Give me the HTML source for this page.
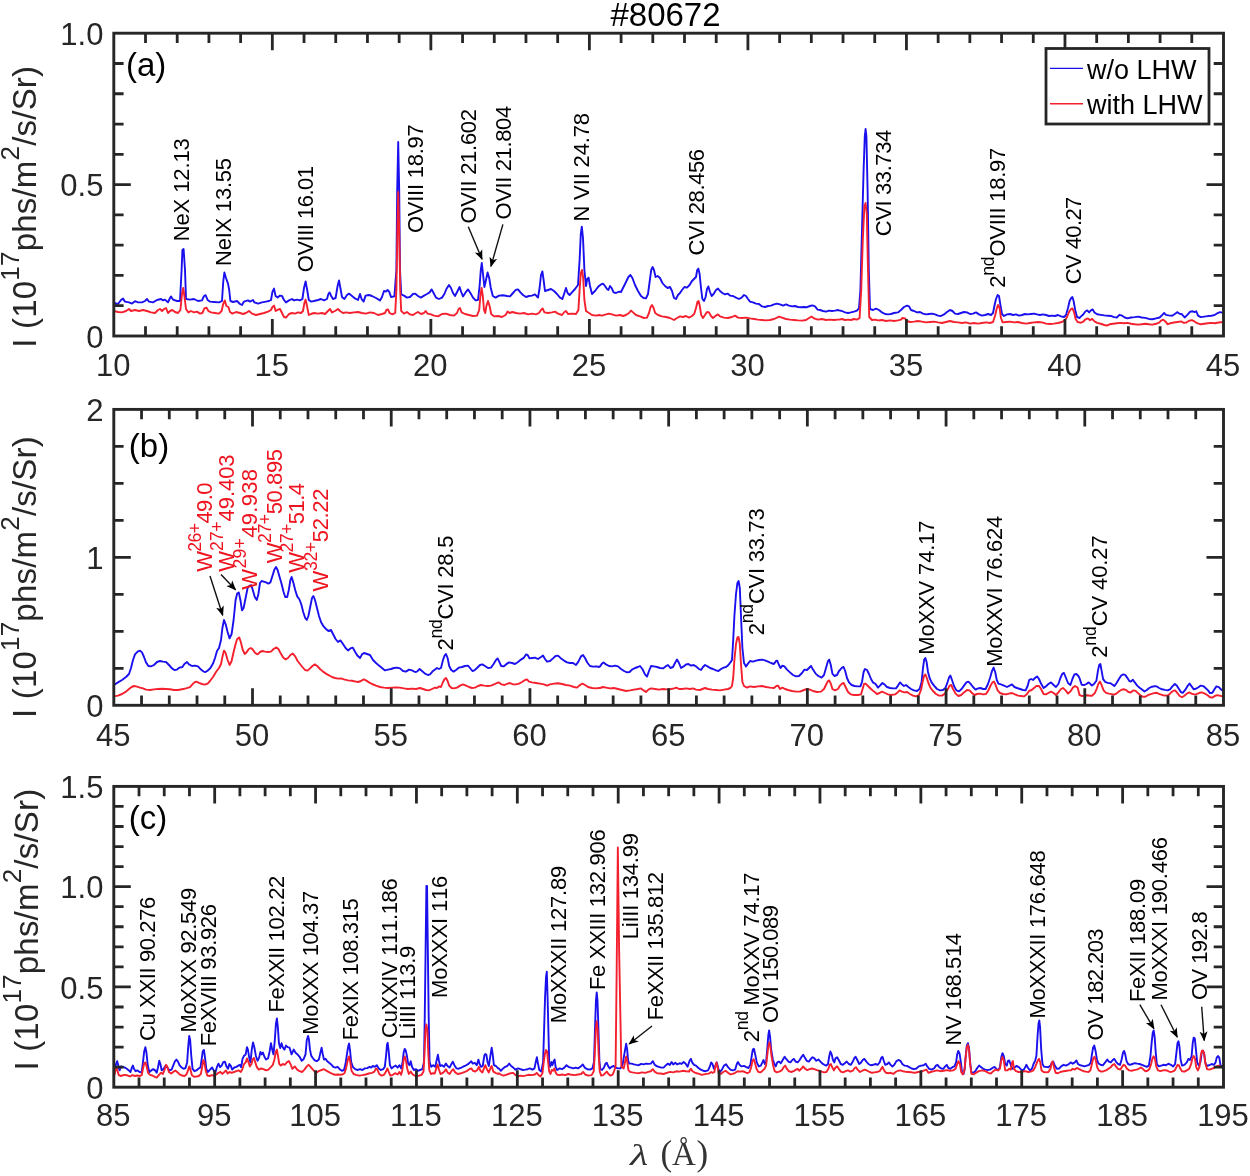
<!DOCTYPE html><html><head><meta charset="utf-8"><title>#80672</title><style>
html,body{margin:0;padding:0;background:#fff}svg{display:block}
text{font-family:"Liberation Sans", Arial, Helvetica, sans-serif;fill:#262626;font-kerning:none}
.tl{font-size:31px}.yl{font-size:33px}.pl{font-size:33px;fill:#000}.an{fill:#000}.anr{fill:#ee1420}.lg{font-size:27px;fill:#000}
.xl{font-family:"Liberation Serif","DejaVu Serif",serif;font-size:33px;fill:#333}
</style></head><body>
<svg width="1250" height="1176" viewBox="0 0 1250 1176">
<rect width="1250" height="1176" fill="#fff"/>
<defs><marker id="ah" viewBox="0 0 10 10" refX="9" refY="5" markerWidth="10" markerHeight="10" markerUnits="userSpaceOnUse" orient="auto"><path d="M0 1L10 5L0 9L2.5 5z" fill="#000"/></marker></defs>
<text x="665.5" y="26" text-anchor="middle" style="font-size:33px;fill:#000">#80672</text>
<g id="panel-a">
<clipPath id="clipa"><rect x="113.8" y="33.2" width="1109.7" height="302.8"/></clipPath>
<polyline clip-path="url(#clipa)" points="114,303 118,304 121,300 123,298.6 125,301.6 129,302.4 132,303.6 135,301.2 138,302.4 142,302.4 145,301 147,299 149,301.6 153,302.4 157,300 161,299 163,300.4 165,299.6 168,302.4 170,298 171,296.4 173,299.6 177,301 180,301 181.6,270 182.4,250 183.6,249 185,270 186,299 190,299.6 194,299 198,301 202,300.4 204,296 205.6,295.2 207.6,300 210,301.6 214,302 219,302.4 222,301 223.2,282 224.4,272.4 226,278 228,283.6 229.2,290 230.4,301 233,302 237,301 240,304 242,305 244,301.6 248,300.4 250,301.6 253,300 254.4,302.4 258,303.6 262,302.4 266,301.6 269,301 271,300 272.4,292 274,288.6 275.6,296 277.6,297.6 280,295.6 282,296 284,300 286,302.4 289,300.4 292,299 294,300.4 297,299.6 300,300.4 302.4,299 304,288 305.6,281.4 307.2,290 308.8,300 311,301.6 314,301 318,300 321,299 324,300.4 327,299 328.4,294 329.6,292.4 331.2,296 333,299 335.6,298 337.6,286 339,280.4 340.4,288 342,297 344.4,299 347,295 349,293.6 352,296 355,298.4 358,300 360,294 361.6,299 363.6,301.6 365.6,295.6 369,295 372,296 376,298 380,300.4 382,297 384,291 386,291.6 387.6,290 389.2,291.6 391,297 394.4,296.4 396.4,270 397.2,190 398.2,142 399.2,190 400,270 401.2,294.4 404,295.6 407,297.6 410,297 413,294 415,293.6 418,296 421,297.6 424,295.6 427,294 429.6,292.4 431.6,289.4 433.6,293 436,297.6 439,299 442,297.6 444.4,294 446.4,289 449,285 451,288 453,293 455,296 457.6,291 459.6,287 461.2,292 463,296.4 465.6,292.4 468,289.4 470.4,293 473,297.6 475.6,300.4 478,300 479.6,286 480.8,270 481.8,263 483,274 484.4,287 486,280 487.6,272.4 489.2,278 490.8,288 492.8,296 495.6,297.6 499,295.6 503,295.2 507,296 510,296.4 513,293 515.6,290 518,289.4 520.4,292.4 523,295 526,297 529,296 532,295.6 535,294.4 538,297.6 539.6,288 541,275 542.4,271.4 543.6,280 545,291 548,290 551,289 554,291 557,294 560,297.6 562.4,299 564.4,293 566,288 567.6,293 569.6,295 572,292.4 575,289 578,285 579.6,260 580.8,234 581.8,226.6 583,238 584.4,270 586,286 587.2,279 588.6,277.6 590,286 592,294 595,291 598,287 599,286 601,284.4 603,283.6 605,286 607,289 608.4,290 610,286 611.6,288 613.6,292.4 616,293 619,291.6 621,292 623,288 626,282 628.4,277 630.4,275 632.4,278 635,285 638,291 641,296 643.6,298 646,298.4 648,294 649.6,282 651.2,270 652.6,267 654,270 655.6,277 657.6,276 660,278 662.4,283 665,286 667.6,288 670,287 672,291 674,298 676,299 678,295 680,293 682,290 684.4,287 687,287.6 689.6,285 692,281 694,279 696,277 697.2,270 698.4,268.6 699.6,274 701,288 702.4,299 704,301 705.6,297 707,289 708.4,286.4 710,292 711.6,296 713.6,294 716,290 718,288.6 720,291 722.4,293 725,294.4 727.6,293.6 730,295.6 733,296 736,297.6 739,299 741.6,297.6 744,295 746,296 748,299 750,301.6 753,302.4 756,303.6 759,304 762,306.4 765,307 768,306 771,305.6 774,304.4 777,303.6 780,304.4 783,305.6 786,304.4 789,305.6 792,306.4 795,306 798,307 801,307.2 804,307 807,307.2 810,306 812.4,305.4 815,306.4 817.6,309.6 820,310 823,311 826,311.6 829,310.6 832,311 835,310.6 838,310 839,310.4 842,311 845,312.4 848,313 851,312.4 854,311.6 857,310.6 859,308 860.4,290 862,230 863.6,170 864.8,136 865.6,129 866.4,136 867.6,190 868.8,270 870,309 873,310 876,308.6 879,310 882,312.4 885,314 888,314.4 891,314 894,313 898,312.4 901,310 904,307 907,305.6 909,306.4 911,310 914,311 917,312.4 920,312 923,313.6 926,314.4 929,314 932,313.6 935,314.4 938,315.6 941,316 944,314.4 947,312 950,310 952.4,311 955,313.6 958,314 961,313 964,312 967,312.4 970,314 973,313.6 976,312.4 979,314.4 982,315.6 985,315 988,314 991,315 993,313 994.4,306 996,299 997.6,295 999,296 1000.4,305 1002,314 1004,316 1007,314.4 1010,314 1013,315 1016,314.4 1019,315.6 1022,315 1025,314 1028,314.4 1031,314 1034,313.6 1037,314.4 1040,315 1043,314.4 1046,315 1049,316 1052,315.6 1055,316 1058,315 1061,316.4 1064,317 1066,315 1068,308 1069.6,301 1071.2,298 1072.4,297 1073.6,301 1075.2,310 1077,317 1079.6,318 1080.18,317.14 1082.86,314.82 1085.54,311.25 1087.32,310.36 1089.11,312.5 1090.89,310.36 1092.68,309.46 1094.46,312.5 1097.14,314.29 1100.71,314.82 1104.29,315.36 1107.86,315.71 1111.43,316.07 1114.11,317.14 1116.79,317.5 1119.46,314.82 1122.14,315.71 1124.82,317.5 1127.5,318.39 1131.07,317.5 1134.64,317.14 1138.21,316.61 1141.79,317.5 1145.36,317.86 1148.93,318.93 1152.5,319.29 1156.07,318.39 1159.64,317.5 1162.32,314.82 1164.11,313.04 1165.89,314.82 1168.57,315.36 1172.14,315.71 1174.82,313.93 1177.14,312.14 1179.29,313.57 1181.96,314.29 1184.64,317.5 1187.32,314.82 1190,311.79 1192.68,311.25 1194.46,312.14 1196.25,311.25 1198.04,315.71 1200.71,317.14 1204.29,316.61 1207.86,316.07 1211.43,315.71 1215,314.82 1217.68,313.04 1220,312.14 1223.93,313.04" fill="none" stroke="#1a10ee" stroke-width="1.9" stroke-linejoin="round"/>
<polyline clip-path="url(#clipa)" points="114,311 118,312 122,312.4 126,311 129,309 131,311 135,310 139,311 143,310 147,311 151,312.4 155,313 158,310 160,309 162,311 164,309 166,308 168,313 170,311 172.4,310 175,312 178,313 180.4,310 182,294 183.2,288 184.4,296 186,309 188.4,312.4 191,311 194,312.4 197,311.6 200,313.6 202.4,313 204.4,308.4 206.4,307.6 208.4,311 211,312.4 215,313 219,313.6 221.6,311 223.2,304 224.8,300.4 226.4,306 228.4,307 230,312 232.4,313.6 236,312 240,313 243,314 246,313 249,311 252,313.6 256,315 260,314 264,313 268,311.6 271,310 272.4,307 274,305.6 275.6,311 278,309.6 280,309 282,313 284,317 286,317.6 289,314 292,313 295,313.6 298,312.4 301,313 303,311 304.4,303 305.6,299.6 307.2,307 308.8,315 311,314 314,313 318,313.6 322,313 325,314 328,311 330,309 332,312.4 335,311 338,309 340,311 343,313 346,312.4 350,313 354,312.4 358,312 362,313 366,313.6 370,312.4 374,313 378,315 382,314 385,313 386.4,310 388,309.4 389.6,313 392.4,314.4 395.2,313 396.4,290 397.4,230 398.2,192 399.2,230 400.2,290 401.2,311 404,313.6 407,312 410,314.4 413,315 416,313 418,312 421,314 424,313 425.6,311 427.6,313.6 431,314.4 434,315.6 438,316.4 442,314 446,313.6 450,315 454,315.6 457,313 458.6,309 460,308 461.6,312.4 465,314 469,315 473,316 477,315.6 479.2,310 480.4,296 481.6,288 482.8,296 484,310 485.2,313 486.4,306 488,301 489.6,306 491.2,314 494,316.4 498,316 502,317 505.6,315 507.6,311.6 509.6,313 512.4,312 516,313 520,313.6 524,313 528,314.4 532,313.6 536,314.4 539,313 541,310 542.6,308.4 544.4,312.4 548,313 552,312.4 555,311.6 558,313.6 562,315 564.4,312 566,311 568,314 572,313.6 576,314 578.4,310 579.6,290 580.8,273 582,270 583.2,278 584.4,300 586,311 589,313 592,315 596,315.6 599,315 602,315.6 606,314.4 609,313.6 612,314.4 616,315.6 620,315 623,316 626,315 629,313 631,310.6 633,312.4 636,315 640,316.4 644,318 647,317.6 649,313 650.6,307 652,305 653.6,308 655.2,313 658,315 662,316.4 666,317 670,318 674,320 677,318 680,316.4 683,317 686,316 689,317.6 692,316 694.4,313.6 696,308 697.4,302 698.6,301 699.8,306 701.2,315 703,318 705,315 707,312 709,312.4 711,316 713,318 716,315.6 718,314.4 720,316.4 724,317.6 728,318 732,317 735,315.6 738,317.6 742,318 746,317.6 750,318.4 754,319 758,319.6 762,320 766,320.4 770,320 774,319 777,317.6 779,316.6 782,317.6 786,319 790,319.6 794,320 798,320.4 802,320.6 806,320 809,318 811.6,316.6 814,318.4 818,319.6 822,319 826,320 830,319.6 834,320 838,319.6 839,319.6 842,319 845,320 848,319.6 851,320 854,319 857,319.6 859.6,318 861.2,290 862.8,240 864.4,206 865.6,203 866.8,214 868,270 869.2,317 872,320 875,319.6 878,320.4 882,320 886,321 890,320.4 894,321 898,320.4 901,319.6 902.4,318 905,318.4 907,321 910,322 914,321.6 918,321 922,321.6 926,322.4 930,322 934,321.6 938,322.4 942,323 946,322 950,321 954,322 958,322.4 962,323 966,322.4 970,323.6 974,323 978,323.6 982,323 986,322.4 990,323 993,322 995,316 996.6,309 998,305 999.6,308 1001,318 1002.6,322.4 1006,322 1010,321.6 1014,322.4 1018,322 1022,323 1026,323.6 1030,323 1034,322.4 1038,322 1042,322.4 1046,323.6 1050,324 1054,323.6 1058,323 1062,322 1065,320 1067,317 1069,312 1071,309 1072.4,308.4 1074,312 1075.6,319 1077.6,322 1079.6,322.4 1080.18,322.86 1082.86,321.96 1085.54,319.29 1087.86,318.39 1090,320.18 1092.14,318.93 1094.46,321.43 1097.14,322.86 1100.71,323.75 1104.29,325 1106.96,325.54 1109.64,324.29 1113.21,323.75 1116.79,323.21 1120.36,322.86 1123.93,323.21 1127.5,322.86 1131.07,323.75 1134.64,324.29 1138.21,324.64 1141.79,324.29 1145.36,323.75 1148.93,324.29 1152.5,324.64 1156.07,323.75 1158.75,322.86 1161.07,320.71 1163.21,319.64 1165.36,321.43 1167.68,324.29 1170.36,323.21 1173.93,322.5 1177.5,321.96 1181.07,321.43 1183.75,322.86 1186.43,322.5 1189.11,320.71 1191.79,320.18 1194.46,321.43 1197.14,323.21 1200.71,324.29 1204.29,323.75 1207.86,323.21 1211.43,322.86 1215,323.21 1218.57,322.5 1223.93,321.96" fill="none" stroke="#f4202e" stroke-width="1.9" stroke-linejoin="round"/>
<path d="M145.51 336v-9.8M145.51 33.2v9.8M177.21 336v-9.8M177.21 33.2v9.8M208.92 336v-9.8M208.92 33.2v9.8M240.62 336v-9.8M240.62 33.2v9.8M272.33 336v-17M272.33 33.2v17M304.03 336v-9.8M304.03 33.2v9.8M335.74 336v-9.8M335.74 33.2v9.8M367.45 336v-9.8M367.45 33.2v9.8M399.15 336v-9.8M399.15 33.2v9.8M430.86 336v-17M430.86 33.2v17M462.56 336v-9.8M462.56 33.2v9.8M494.27 336v-9.8M494.27 33.2v9.8M525.97 336v-9.8M525.97 33.2v9.8M557.68 336v-9.8M557.68 33.2v9.8M589.39 336v-17M589.39 33.2v17M621.09 336v-9.8M621.09 33.2v9.8M652.8 336v-9.8M652.8 33.2v9.8M684.5 336v-9.8M684.5 33.2v9.8M716.21 336v-9.8M716.21 33.2v9.8M747.91 336v-17M747.91 33.2v17M779.62 336v-9.8M779.62 33.2v9.8M811.33 336v-9.8M811.33 33.2v9.8M843.03 336v-9.8M843.03 33.2v9.8M874.74 336v-9.8M874.74 33.2v9.8M906.44 336v-17M906.44 33.2v17M938.15 336v-9.8M938.15 33.2v9.8M969.85 336v-9.8M969.85 33.2v9.8M1001.56 336v-9.8M1001.56 33.2v9.8M1033.27 336v-9.8M1033.27 33.2v9.8M1064.97 336v-17M1064.97 33.2v17M1096.68 336v-9.8M1096.68 33.2v9.8M1128.38 336v-9.8M1128.38 33.2v9.8M1160.09 336v-9.8M1160.09 33.2v9.8M1191.79 336v-9.8M1191.79 33.2v9.8M113.8 305.72h9.8M1223.5 305.72h-9.8M113.8 275.44h9.8M1223.5 275.44h-9.8M113.8 245.16h9.8M1223.5 245.16h-9.8M113.8 214.88h9.8M1223.5 214.88h-9.8M113.8 184.6h17M1223.5 184.6h-17M113.8 154.32h9.8M1223.5 154.32h-9.8M113.8 124.04h9.8M1223.5 124.04h-9.8M113.8 93.76h9.8M1223.5 93.76h-9.8M113.8 63.48h9.8M1223.5 63.48h-9.8" stroke="#262626" stroke-width="2.8" fill="none"/>
<rect x="113.8" y="33.2" width="1109.7" height="302.8" fill="none" stroke="#262626" stroke-width="2.9"/>
<text x="113.3" y="376.2" text-anchor="middle" class="tl">10</text>
<text x="271.83" y="376.2" text-anchor="middle" class="tl">15</text>
<text x="430.36" y="376.2" text-anchor="middle" class="tl">20</text>
<text x="588.89" y="376.2" text-anchor="middle" class="tl">25</text>
<text x="747.41" y="376.2" text-anchor="middle" class="tl">30</text>
<text x="905.94" y="376.2" text-anchor="middle" class="tl">35</text>
<text x="1064.47" y="376.2" text-anchor="middle" class="tl">40</text>
<text x="1223" y="376.2" text-anchor="middle" class="tl">45</text>
<text x="103.4" y="347.6" text-anchor="end" class="tl">0</text>
<text x="103.4" y="196.2" text-anchor="end" class="tl">0.5</text>
<text x="103.4" y="44.8" text-anchor="end" class="tl">1.0</text>
<text transform="translate(36.2 347.7) rotate(-90)" class="yl" letter-spacing="0.2">I (10<tspan dy="-17.5" font-size="26">17</tspan><tspan dy="17.5">phs/m</tspan><tspan dy="-17.5" font-size="26">2</tspan><tspan dy="17.5">/s/Sr)</tspan></text>
<text x="125.9" y="75.8" class="pl">(a)</text>
</g>
<g id="panel-b">
<clipPath id="clipb"><rect x="113.8" y="409.4" width="1109.7" height="295.9"/></clipPath>
<polyline clip-path="url(#clipb)" points="114,685 118,682.4 122,680 126,677 129,674 131,668 133,660 135,654.4 137.6,651.6 140,650.6 142,652.4 144,657 146,662.4 148.4,666 151,666.4 154,665 157,662 160,661 163,661.6 166,662 169,665 172,668.4 174.4,670 177,669.6 179.6,667.6 182.4,667 184.4,664 187,662 189,664.4 192,666 195,665.6 198,666.4 201,669.6 203.6,671.6 205.6,672 208,670.4 210.4,668 213,663.6 215,658 217,651 219,648 221,640 222.4,628 224,620 225.6,624 227.6,632 229.6,638.4 231.6,634 233.6,620 235.6,600 237.2,593.6 238.8,592.4 240.4,600 242,610.4 243.6,608 245.6,598 247.6,588 249.6,585.6 251.2,585.2 252.8,590 254.8,597 256.8,600 258.4,594 260,583 261.6,581 263.6,581.6 266,582.4 268.4,583.6 270.4,582.4 272.4,576 274.4,569.6 276,567 277.6,570 279.6,577 281.6,584 283.6,592 285.2,597 287.2,597 288.8,590 290.4,580 291.6,577 293.2,582 295.2,590 297.2,596.4 299.2,599 301.2,604 303.2,612 305.2,618 306.8,620 308.4,616 310.4,606 312,598 313.4,596 315,600 317,608 319,616 321,622 323.6,626.4 326,629 328.4,631 331,630 333,634 335.6,639 338,642 340.4,640.4 343,644 345.6,648 348,650.4 350.4,648.4 352.8,647.6 355.2,652 357.6,656 358,656 360,658 362,654.4 364,653 367,654 370,655 373,660 376,663 379,665.6 382,668 385,670.4 388,669.6 391,669 394,668 397,667.6 400,668.4 403,671 406,671.6 409,669.6 412,670.4 415,672 417,671.6 419.6,669 422,671 425,673.6 428,675 430,674.4 432.4,671.6 435,669.6 437,668 439,669 441,668 443,660 444.6,655.6 446,654 447.6,658 449.2,666 451.2,670 453.6,671.6 456,670 459,667.6 462,667 465,666 468,665.6 470,668 472.4,671 474.4,670.4 477,668 480,665 482.4,664.4 485,666 488,668 491,667.6 493.6,664 496,660 497.6,658.4 499.2,661.6 501.2,666 503.6,666.4 506,664.4 509,662.4 512,663 515,664 518,662 521,659.6 524,657.6 526,654.4 527.6,655 529.6,658.4 532.4,658 535,657.6 538,659 541,657 543,655.6 545,659 547,661.6 550,661 553,658.4 555.6,656 558,655.6 561,658.4 564,660.6 567,662.4 570,663 573,663 576,665 578.4,661.6 581,656.4 583,655 585,658 587.6,663 590,666 593,666.6 596.4,666.4 599,667 600,666.4 602,663.6 603.6,662.4 606,664.4 609,666 612,666.4 615,665.6 618,666.4 621,669 624,671 627,672.4 629.6,672 632,669.6 635,668 638,667 640,666 642.4,669 645,674.4 647,676.6 649,671 651,666 654,666.4 657,667 660,668 663,668.4 665.6,666.4 668,665 670.4,668 673,667 675,663 677,659.6 679,663 681,668 683.6,666.4 686,664.4 688.4,664 691,665.6 693.6,665 696,666.4 699,669 701,670 703,667 705,665 707.6,666.4 710,668 713,669 716,670.4 718.4,671 721,669 723.6,667.6 726,667 728.4,665 730.4,662.4 732,660 733.2,640 734.4,616 736,594 737.4,583 738.6,581 739.8,588 741,616 742.4,648 744,663 746,666.4 748,663.6 750,661 753,661.6 756,660.6 759,660 762,659.6 765,660.4 768,661.6 771,663 774,664 776,661 777.2,660.6 779,665 780.6,668 782.4,665.6 784.4,666.4 787,669.6 790,672.4 793,675 796,676.4 799,676 802,673 804.4,669.6 807,670 809,668 811,666 813,669.6 815.6,673.6 818.4,676 821.6,677.6 824,675 826,668 828,661 829.2,659.6 830.8,665 832.4,673.6 834.4,676 837,675 839,671 840,670 842,667.6 843.6,667 845.2,671 847,678 849,682.4 851.6,685 854.4,686 857.6,686.4 860.4,686.4 862,682 863.6,672 865,669 867,670 869,674 871,679 873,682.4 875.6,684 878,687.6 880,685.6 882.4,683 884.4,684.4 887,687 890,688 893,688.4 896,688.4 898,685.6 900,682.4 902,684.4 904,686 906,685 908.4,687 911,689 914,690.4 917,691 919.6,689 921.6,682 923,668 924.2,659.6 925.4,658 926.6,662 928,672 929.6,678 931.6,682.4 934,685.6 937,689 940,690.4 943,690 945.6,687.6 947.6,682 949.2,677 950.4,675.6 952,680 954,686 956.4,690.4 959,691.4 961.6,689 964,685.6 966.4,682.4 968.4,681.6 970.4,683.6 973,687 975.6,689.6 978,688.4 980.4,688 983,689 985.6,689 988,684 990,678 992,671 993.6,667.6 995.2,672 996.8,680 998.4,683.6 1001,684.4 1004,685.6 1007,687 1009.6,685.6 1012,684.4 1014.4,687 1017,688 1020,689 1023,690 1025.6,690.4 1027.6,686 1029.2,680 1031,679 1033,680 1035,678 1037,676.4 1039,679 1041,683.6 1043.6,688 1046,686.4 1048.4,684 1051,682.4 1053.6,685 1056,687 1058.4,684 1060.4,678 1062.4,673.6 1064,673 1065.6,677 1068,683 1070.4,685 1072.4,679 1074.4,674.4 1076.4,674 1078.4,676 1079.6,678.4 1081.68,684.8 1083.92,685.12 1086.48,684 1088.4,682.4 1090,683.52 1091.92,685.6 1094,684 1096.4,680.8 1098,670.4 1099.28,664.8 1100.4,664 1101.52,670.4 1103.12,679.2 1105.2,681.92 1107.6,682.88 1110.48,683.2 1112.72,684.8 1114.32,686.08 1116.4,683.2 1118.8,679.2 1121.2,675.52 1123.28,674.4 1125.2,674.88 1127.12,677.6 1129.2,680.8 1130.8,681.6 1132.88,679.68 1134.8,682.4 1137.2,685.6 1139.6,687.68 1142,689.6 1144.4,691.52 1146.8,689.92 1149.2,688 1152.08,686.72 1154.8,686.08 1156.88,686.4 1159.12,688 1162,689.28 1164.88,689.92 1167.6,690.4 1170,689.28 1172.4,686.4 1174.8,684 1176.72,685.6 1178.8,688.8 1180.88,692 1182.8,692.8 1185.2,689.92 1187.28,686.4 1189.52,683.52 1191.6,686.4 1193.68,689.28 1195.92,688.8 1198.48,687.2 1200.72,685.6 1203.28,686.08 1205.52,688 1208.08,690.4 1210,693.12 1212.4,692.8 1214.48,689.28 1216.4,686.4 1218.8,687.2 1220.88,689.28 1224.4,692" fill="none" stroke="#1a10ee" stroke-width="1.9" stroke-linejoin="round"/>
<polyline clip-path="url(#clipb)" points="114,696.4 118,695.6 122,694 126,691.6 129,689 131.6,687 134,686 137,686.6 140,687.6 143,688.4 146,689.6 150,690 154,689.4 158,689 162,688.8 166,689 170,689.2 174,690 178,690 182,689.2 186,688.4 190,687.2 192.4,684.4 194.4,682.4 196.4,681.6 199,682.8 202,684 205,684.6 207.6,683.6 210,681 213,677 216,672 219,668 221,664 222.4,657 224,650.6 225.6,653 227.6,660 229.6,665 231.6,661 233.6,652 235.6,644 237.2,639 239.2,637.4 240.8,642 242.8,650 244.8,654 246.8,652 248.8,649 250.8,648 252.8,649.6 255.2,653 257.6,654.4 260,652 262.4,651 265,651.6 268,652 271,651.6 273.6,649 276.4,647.4 278.4,649 280.8,653.6 283.2,657.6 285.6,659.4 288,658 290.4,655 292.8,653.6 295.2,656.4 297.6,661 300,664 302.4,667 305,670 307.6,670.6 310,668.4 312.4,666 314.8,664.4 317.2,666 320,669 323,671.6 326,673.6 329,675.4 332,677 335,678 338,678.6 341,678.4 344,679.4 348,680.4 352,680.8 356,681.6 358,682 361,681 363.6,679.4 366,680.4 369,682.4 372,684 376,685.6 380,687 384,687.6 388,688 392,687.6 396,687.4 400,687.6 404,688.4 408,689 412,688.6 416,689 420,688 423,689 426,690 429,690.4 432,689 435,687.6 437,688 439,686.4 441,687 443,682 444.6,679 446,678 447.6,681 449.2,685.6 451.6,688 454,688.4 457,687.6 460,685.6 463,684.4 466,685.6 469,687 472,688 475,687.6 478,686 481,685 484,685.6 488,686 491,685.6 494,684.4 497,683 499,682.4 501.6,684.4 504.4,685 507.6,683.6 510,683 513,684.4 516,684.4 519,683.6 522,682 525,680 527,679.4 529,681.6 532,682.4 536,683 540,683.6 544,684.4 547,685.6 550,684.4 554,683.6 558,683.2 562,684 566,685 570,685.6 574,687 577,687.6 580,685 582.4,683.6 585,685 588,687 592,688 596,688.4 599,688 600,688 603,687 606,687.6 610,688.4 614,688 618,689 622,690 626,691 630,690.4 634,689.6 638,689 641,688.4 643.6,690.4 646,692 648.4,689.6 651,688.4 655,689 659,689.6 663,689 667,689.4 671,689 674,688.4 676.4,687.6 679,689 682,689 686,688.4 690,689 693,688.4 696,689.6 700,690 702.4,689 705,688 708,689 712,689.6 716,690 720,690.4 724,689.6 728,689 730.4,688 732,686 733.2,678 734.4,660 736,644 737.4,637.4 738.6,637 739.8,644 741,664 742.4,682 744,686 747,687.6 750,686.4 754,687 758,686.4 762,686 766,687 770,687.6 774,688 776.4,686 778,685.6 780,689 782.4,687.6 785,689 788,690 792,691 796,691.6 800,691.6 804,690 807,689 810,689.6 813,691 817,692 821,691.6 824,689 826.4,684 828,681 829.2,680.4 830.8,683.6 832.4,689 835,690.4 838,689 840,685.6 842,683.6 843.6,683 845.6,687 848,692 851,694.4 854,695 858,695 861,694.4 862.6,689 864,684 865.6,683.6 868,686 871,689 874,691.6 877,694 879.6,693 882,691.6 885,693 888,694.4 891,695 895,694.4 897.6,692.4 899.6,690.4 902,691.6 904.4,692.4 907,692 910,694 913,695.6 916,696.4 919,695 921,690 922.6,682 924,676 925.4,674.4 926.8,678 928.4,683 930.4,687.6 933,691 936,694 939,695.6 942,695.6 945,693.6 947.6,689.6 949.6,685.6 951.2,685 953,689 955.6,693.6 958.4,696 961.2,695 964,692.4 967,690 969.6,690.4 972,693 974.4,695 977,694 980,693.6 983,694.4 986,694 988.4,690.4 990.4,686 992.4,682.4 994,681.6 995.6,685 997.6,690.4 1000,693 1003,694 1006,694.4 1009,693.6 1012,693 1015,694.4 1018,695.6 1021,696 1024,696.4 1027,694 1029,691 1031.6,690 1034,688 1036.4,686 1039,686 1041,689 1043.6,694 1046,694.4 1048.4,693 1051,691.6 1053.6,693 1056,695 1058.4,692.4 1061,689 1063,688 1065.6,690.4 1068,693.6 1070.4,691.6 1073,687.6 1075,686 1077.6,687.6 1079.6,695.2 1082,696 1084.4,695.68 1087.12,695.2 1089.68,695.68 1091.92,695.68 1094.48,693.6 1096.72,688.8 1098.32,684 1099.92,681.6 1101.52,684.8 1103.6,690.4 1106,692.8 1108.88,693.6 1111.6,694.08 1114,694.72 1116.4,693.6 1118.8,691.52 1121.2,689.92 1123.6,689.28 1126,689.92 1128.4,692 1130.8,692.48 1133.2,690.4 1135.6,690.88 1138,693.12 1140.4,695.2 1142.8,696.8 1145.2,696.8 1147.92,695.2 1150.8,694.08 1154,693.12 1156.88,692.8 1159.6,694.08 1162.8,695.2 1166,695.68 1168.4,695.2 1170.8,692.8 1173.2,690.88 1175.12,690.4 1177.2,692.8 1179.6,696 1182,697.28 1184.4,695.68 1186.8,693.6 1189.2,692.48 1191.6,693.6 1194,694.4 1196.4,694.08 1199.6,692.8 1202,692.48 1204.88,693.6 1207.6,695.2 1210,697.28 1212.4,697.6 1214.8,696 1217.2,695.2 1219.6,695.68 1224.4,696.8" fill="none" stroke="#f4202e" stroke-width="1.9" stroke-linejoin="round"/>
<path d="M141.54 705.3v-9.8M141.54 409.4v9.8M169.28 705.3v-9.8M169.28 409.4v9.8M197.03 705.3v-9.8M197.03 409.4v9.8M224.77 705.3v-9.8M224.77 409.4v9.8M252.51 705.3v-17M252.51 409.4v17M280.25 705.3v-9.8M280.25 409.4v9.8M308 705.3v-9.8M308 409.4v9.8M335.74 705.3v-9.8M335.74 409.4v9.8M363.48 705.3v-9.8M363.48 409.4v9.8M391.23 705.3v-17M391.23 409.4v17M418.97 705.3v-9.8M418.97 409.4v9.8M446.71 705.3v-9.8M446.71 409.4v9.8M474.45 705.3v-9.8M474.45 409.4v9.8M502.19 705.3v-9.8M502.19 409.4v9.8M529.94 705.3v-17M529.94 409.4v17M557.68 705.3v-9.8M557.68 409.4v9.8M585.42 705.3v-9.8M585.42 409.4v9.8M613.16 705.3v-9.8M613.16 409.4v9.8M640.91 705.3v-9.8M640.91 409.4v9.8M668.65 705.3v-17M668.65 409.4v17M696.39 705.3v-9.8M696.39 409.4v9.8M724.13 705.3v-9.8M724.13 409.4v9.8M751.88 705.3v-9.8M751.88 409.4v9.8M779.62 705.3v-9.8M779.62 409.4v9.8M807.36 705.3v-17M807.36 409.4v17M835.1 705.3v-9.8M835.1 409.4v9.8M862.85 705.3v-9.8M862.85 409.4v9.8M890.59 705.3v-9.8M890.59 409.4v9.8M918.33 705.3v-9.8M918.33 409.4v9.8M946.07 705.3v-17M946.07 409.4v17M973.82 705.3v-9.8M973.82 409.4v9.8M1001.56 705.3v-9.8M1001.56 409.4v9.8M1029.3 705.3v-9.8M1029.3 409.4v9.8M1057.05 705.3v-9.8M1057.05 409.4v9.8M1084.79 705.3v-17M1084.79 409.4v17M1112.53 705.3v-9.8M1112.53 409.4v9.8M1140.27 705.3v-9.8M1140.27 409.4v9.8M1168.01 705.3v-9.8M1168.01 409.4v9.8M1195.76 705.3v-9.8M1195.76 409.4v9.8M113.8 668.31h9.8M1223.5 668.31h-9.8M113.8 631.32h9.8M1223.5 631.32h-9.8M113.8 594.34h9.8M1223.5 594.34h-9.8M113.8 557.35h17M1223.5 557.35h-17M113.8 520.36h9.8M1223.5 520.36h-9.8M113.8 483.38h9.8M1223.5 483.38h-9.8M113.8 446.39h9.8M1223.5 446.39h-9.8" stroke="#262626" stroke-width="2.8" fill="none"/>
<rect x="113.8" y="409.4" width="1109.7" height="295.9" fill="none" stroke="#262626" stroke-width="2.9"/>
<text x="113.3" y="745.6" text-anchor="middle" class="tl">45</text>
<text x="252.01" y="745.6" text-anchor="middle" class="tl">50</text>
<text x="390.73" y="745.6" text-anchor="middle" class="tl">55</text>
<text x="529.44" y="745.6" text-anchor="middle" class="tl">60</text>
<text x="668.15" y="745.6" text-anchor="middle" class="tl">65</text>
<text x="806.86" y="745.6" text-anchor="middle" class="tl">70</text>
<text x="945.57" y="745.6" text-anchor="middle" class="tl">75</text>
<text x="1084.29" y="745.6" text-anchor="middle" class="tl">80</text>
<text x="1223" y="745.6" text-anchor="middle" class="tl">85</text>
<text x="103.4" y="716.9" text-anchor="end" class="tl">0</text>
<text x="103.4" y="568.95" text-anchor="end" class="tl">1</text>
<text x="103.4" y="421" text-anchor="end" class="tl">2</text>
<text transform="translate(36.2 718) rotate(-90)" class="yl" letter-spacing="0.2">I (10<tspan dy="-17.5" font-size="26">17</tspan><tspan dy="17.5">phs/m</tspan><tspan dy="-17.5" font-size="26">2</tspan><tspan dy="17.5">/s/Sr)</tspan></text>
<text x="128.8" y="456.5" class="pl">(b)</text>
</g>
<g id="panel-c">
<clipPath id="clipc"><rect x="113.8" y="786.4" width="1109.7" height="300.8"/></clipPath>
<polyline clip-path="url(#clipc)" points="113.52,1073.6 114.8,1068.8 116.08,1064 117.2,1061.12 118.32,1065.6 119.6,1070.4 120.88,1066.4 122.48,1066.88 124.72,1067.52 126.8,1068.8 128.88,1070.4 130.48,1072 131.76,1068 132.88,1065.6 134,1068.8 135.6,1071.2 137.52,1070.4 139.6,1072 141.68,1072.32 142.96,1062.4 144.24,1051.2 145.36,1047.2 146.48,1052.8 147.76,1065.6 149.36,1072 151.28,1070.4 153.2,1069.12 155.12,1070.4 156.72,1072.8 158,1067.2 159.28,1060.8 160.4,1064 161.68,1070.4 163.6,1068.8 165.68,1065.6 167.6,1068 169.52,1070.4 171.6,1069.6 173.2,1065.6 174.8,1061.6 176.4,1059.52 178,1061.6 179.6,1065.28 181.68,1067.52 183.6,1068.8 185.52,1068 187.12,1062.4 188.24,1046.4 189.2,1036 190.16,1040 191.28,1056 192.56,1068.8 194.48,1071.2 196.4,1070.4 198.32,1068.8 200.4,1067.52 201.68,1059.2 202.8,1051.2 203.92,1049.92 205.04,1057.6 206.32,1068.8 207.92,1072 210,1069.6 212.08,1067.52 213.68,1070.4 215.28,1072.8 216.88,1067.2 218.48,1063.68 220.08,1067.2 221.68,1065.6 223.28,1062.08 224.88,1061.6 226.48,1066.4 228.08,1068.8 229.36,1064 230.64,1065.6 232.24,1069.6 234.16,1067.52 236.4,1066.88 238.32,1065.6 239.92,1064.8 241.2,1067.2 242.48,1059.2 244.08,1055.68 245.68,1054.4 246.96,1047.2 247.92,1049.6 249.2,1057.6 250.48,1062.4 251.76,1049.6 253.04,1042.4 254.32,1047.2 255.92,1056 257.52,1060.8 259.12,1057.6 260.4,1052 261.68,1054.4 262.96,1052.48 264.4,1056.8 266,1059.52 268.08,1058.4 269.68,1051.2 270.96,1043.2 272.24,1049.6 273.52,1054.4 274.8,1040 275.92,1024 276.88,1018.4 277.84,1027.2 278.96,1043.2 280.24,1048 281.52,1043.2 282.8,1047.2 284.4,1049.6 286,1045.6 287.6,1047.2 289.52,1047.68 291.6,1054.4 293.68,1049.6 295.6,1052.8 297.52,1054.4 299.6,1056.8 301.68,1060.8 303.6,1059.2 305.52,1054.4 306.8,1040 308.08,1036 308.96,1039.6 309.92,1049.2 311.2,1055.6 312.8,1058 314.72,1060.4 316.8,1061.2 318.88,1059.6 320.48,1052.4 321.6,1047.6 322.72,1054 324,1059.6 325.6,1058.8 327.2,1061.2 329.12,1062.8 331.2,1064.4 333.28,1066.8 335.52,1067.6 337.6,1066.8 339.68,1069.2 341.92,1070.8 344,1070 345.6,1063.6 347.2,1052.4 348.32,1046 349.12,1043.6 350.08,1050.8 351.2,1062 352.8,1066.8 355.2,1069.2 357.6,1070 360,1069.2 362.4,1070 364.8,1068.4 367.2,1068.08 369.6,1066.8 371.2,1067.6 372.8,1066 374.88,1066.8 376.8,1065.2 378.72,1068.4 380.8,1070 383.2,1069.2 384.8,1066.8 386.08,1055.6 387.04,1044.4 387.68,1042.8 388.64,1050.8 389.92,1065.2 391.52,1068.4 393.6,1066.8 395.68,1065.52 397.6,1067.6 399.52,1065.2 401.12,1068.4 402.4,1063.6 403.68,1052.4 404.64,1048.88 405.6,1050 406.88,1055.6 408.16,1063.6 409.44,1065.2 410.72,1061.2 412,1066.8 413.92,1070 416,1069.2 418.08,1070.8 420,1070 422.4,1069.2 424,1062 424.8,1014 425.6,950 426.4,886 427.04,886 427.84,950 428.64,1014 429.6,1062 431.2,1066.8 433.12,1065.2 435.2,1066.8 436.8,1059.6 437.92,1054.8 438.88,1060.4 440.16,1066 442.08,1065.2 444,1066.8 445.92,1063.6 447.52,1066 449.6,1067.6 451.2,1064.4 452.8,1061.68 454.4,1065.2 456.48,1068.4 458.72,1068.72 461.28,1067.6 463.52,1066.48 465.6,1065.52 467.68,1064.4 469.6,1062.8 471.2,1061.2 472.8,1063.6 474.72,1062.8 476.8,1065.2 478.4,1059.6 479.52,1063.6 481.12,1066.8 482.72,1066 484.32,1055.6 485.28,1054 486.4,1054.8 487.52,1062 488.8,1066 490.4,1055.6 491.68,1047.6 492.64,1054 493.92,1065.2 496,1066 498.08,1068.4 498.8,1068.4 500.88,1070.8 503.12,1068.4 505.2,1066.8 507.28,1066 509.2,1063.6 511.12,1066 513.2,1067.6 515.6,1069.68 518,1068.4 520.4,1069.2 522.8,1070 525.2,1069.68 527.6,1069.2 530,1068.4 532.4,1069.68 534.48,1068.4 535.76,1062 536.88,1057.2 538,1063.6 539.28,1070 541.2,1071.6 543.12,1062 544.08,1030 545.04,998 546,977.2 546.8,971.6 547.6,998 548.4,1030 549.2,1062 550.16,1066.8 551.44,1062 552.4,1065.2 553.68,1061.2 554.64,1059.6 555.6,1066.8 557.2,1070 559.6,1068.4 562,1069.2 564.4,1067.6 566.48,1065.2 568.4,1066.8 570.8,1067.6 573.2,1068.4 575.6,1067.6 578,1068.4 580.4,1066.8 582.8,1064.4 584.72,1067.6 587.28,1069.2 590,1069.68 592.4,1068.4 594,1062 594.96,1030 595.92,1001.2 596.72,992.4 597.52,1001.2 598.48,1030 599.44,1062 600.4,1069.2 602,1070 603.92,1067.6 605.52,1063.6 606.8,1062.8 608.08,1066 609.68,1068.4 611.6,1066.8 613.52,1066 615.6,1067.6 618,1068.4 620.4,1068.4 621.52,1066.8 622.8,1063.6 624.08,1055.6 625.2,1049.2 626.16,1043.6 627.12,1049.2 628.08,1060.4 629.2,1063.6 631.6,1063.6 634,1064.4 636.4,1064.88 638.8,1065.2 641.2,1063.92 643.6,1064.4 646,1063.6 648.4,1063.92 650.8,1063.6 652.88,1061.2 654.48,1064.4 656.4,1066 658.8,1066.8 661.2,1067.6 663.6,1067.6 666,1065.2 667.92,1063.6 669.84,1064.88 671.6,1062 673.2,1064.4 675.28,1062.8 677.2,1064.4 679.6,1063.28 681.68,1063.92 683.6,1062 685.52,1063.6 687.6,1066.8 689.2,1062 689.6,1060.8 690.88,1058.88 692.16,1062.4 694.08,1064.8 696,1065.6 698.4,1068 700.8,1069.6 703.2,1070.72 705.6,1071.2 708,1070.4 709.6,1067.2 711.2,1062.4 712.48,1064 713.92,1068.8 715.52,1065.6 716.8,1062.4 718.4,1068.8 720,1072 721.92,1069.6 724,1065.6 726.08,1064.32 728,1067.2 730.4,1069.6 732.8,1070.4 735.2,1069.6 736.8,1064 737.92,1062.08 739.52,1064.8 741.6,1066.4 744,1065.92 746.4,1067.2 748.48,1068 750.4,1064.8 751.68,1056 752.8,1049.6 753.92,1048.8 755.2,1054.4 756.8,1062.4 758.72,1066.4 760.8,1065.6 762.4,1062.4 763.52,1060 764.8,1064 766.08,1062.4 767.2,1049.6 768.32,1035.2 769.12,1030.4 770.08,1036.8 771.2,1049.6 772.8,1059.2 774.4,1064 775.68,1066.4 777.28,1062.4 778.88,1061.6 780.8,1063.2 782.72,1060 784.64,1056.8 786.4,1059.2 788.48,1061.6 790.4,1062.4 792.32,1060 793.92,1058.88 795.52,1061.6 797.6,1062.4 799.68,1060 801.6,1056.8 803.2,1054.72 804.8,1057.6 806.72,1060.8 808.8,1061.6 810.88,1058.88 812.48,1057.28 814.4,1058.4 816.32,1060.8 818.4,1059.52 820.48,1061.6 822.4,1063.68 824.32,1064.8 826.4,1065.6 828,1064 829.28,1056 830.4,1051.52 831.68,1054.4 832.96,1060 834.24,1062.4 835.52,1058.4 837.12,1057.28 838.72,1060 840.8,1064 842.88,1064.8 844.8,1063.2 846.72,1061.6 848.8,1064 850.88,1064.8 852.8,1061.6 854.4,1057.92 855.68,1056.8 857.28,1060 859.2,1064 861.12,1062.4 862.72,1060 864.32,1058.88 866.4,1061.6 868.48,1064 870.72,1065.28 873.28,1064.8 875.52,1064 877.6,1064.8 879.68,1062.4 881.2,1057.92 882.48,1056.8 883.76,1060.8 885.2,1064.8 887.28,1064 888.88,1062.4 890.48,1064.8 892.4,1066.4 894.32,1064.8 896.4,1061.12 898.48,1060 900.4,1060.8 902.32,1064 904.4,1065.6 906.8,1065.92 909.2,1067.2 911.6,1068.48 914,1069.12 916.4,1068.48 918.8,1066.4 921.2,1065.6 923.6,1065.28 925.68,1063.68 927.28,1066.4 929.2,1068.8 931.6,1069.6 934,1068.48 935.92,1065.6 937.52,1064.8 939.12,1066.88 941.2,1068.48 943.28,1068.8 945.2,1066.4 946.8,1064.8 948.4,1068 950.32,1068.8 952.4,1067.2 954.48,1066.4 956.08,1062.4 957.2,1054.4 958.32,1050.88 959.6,1053.6 960.88,1062.4 962,1072 963.6,1073.92 964.72,1068.8 965.68,1056 966.8,1045.6 967.92,1043.2 969.04,1048 970.16,1062.4 971.28,1072 973.2,1072.8 975.28,1071.2 977.2,1068 979.12,1065.6 981.2,1067.2 983.28,1068.8 985.2,1069.6 987.6,1070.08 990,1069.6 992.4,1068 994.48,1066.88 996.4,1068.8 998,1070.4 999.92,1067.2 1001.2,1057.6 1002.48,1053.12 1003.76,1056 1005.2,1064 1006.8,1065.6 1007.92,1060.8 1009.2,1060.48 1010.48,1064 1012.08,1068.8 1014,1068 1016.4,1065.92 1018.8,1067.2 1021.2,1069.6 1023.28,1070.4 1025.2,1067.2 1026.48,1064.8 1028.08,1068 1030,1070.4 1031.92,1068.8 1033.52,1064 1035.12,1060.8 1036.4,1056 1037.52,1036.8 1038.48,1024 1039.28,1020.48 1040.08,1027.2 1041.2,1049.6 1042.48,1064 1044.08,1066.88 1046,1066.88 1048.4,1067.2 1050.48,1065.6 1052.08,1062.4 1053.2,1061.6 1054.8,1065.6 1056.88,1068.8 1059.12,1068.48 1061.2,1066.4 1063.6,1064.8 1066,1065.6 1068.4,1064.32 1068.88,1064 1070.8,1062.4 1072.72,1063.68 1074.8,1062.4 1076.4,1060.48 1078,1064 1080.08,1065.28 1082,1065.6 1084.4,1066.4 1086.8,1065.6 1089.2,1064.8 1090.8,1062.4 1091.92,1054.4 1093.2,1047.2 1094.32,1045.6 1095.6,1051.2 1096.88,1059.2 1098.32,1063.2 1100.4,1064.8 1102.8,1065.28 1105.2,1062.4 1107.28,1059.52 1108.88,1061.6 1110.8,1062.4 1112.72,1060 1114.32,1058.88 1115.92,1061.6 1118,1064 1120.08,1064.8 1121.68,1059.2 1122.96,1052.8 1124.08,1050.88 1125.2,1054.4 1126.48,1060.8 1128.08,1064 1130,1064.8 1132.4,1064 1134.8,1063.2 1137.2,1063.68 1139.6,1064 1142,1064.8 1144.4,1065.92 1146.8,1066.88 1148.88,1065.6 1150.48,1056 1151.6,1043.2 1152.72,1032.8 1153.68,1030.4 1154.64,1036.8 1155.76,1052.8 1156.88,1064 1158.8,1066.4 1161.2,1065.6 1163.6,1064.8 1166,1065.28 1168.4,1063.68 1170.8,1064.8 1173.2,1066.4 1175.12,1064 1176.4,1052.8 1177.52,1043.2 1178.48,1041.28 1179.44,1046.4 1180.56,1059.2 1182,1065.6 1184.4,1064.8 1186.8,1062.4 1188.4,1058.88 1190,1060 1191.6,1056 1192.72,1043.2 1193.68,1037.6 1194.8,1038.4 1195.92,1049.6 1197.2,1062.4 1198.8,1065.6 1200.4,1062.4 1201.68,1052.8 1202.8,1050.88 1204.08,1052.8 1205.2,1062.4 1206.8,1065.92 1209.2,1065.28 1211.6,1064 1214,1064.8 1215.6,1062.4 1216.72,1057.6 1218,1056 1219.28,1057.6 1220.56,1065.6 1223.6,1066.88" fill="none" stroke="#1a10ee" stroke-width="1.9" stroke-linejoin="round"/>
<polyline clip-path="url(#clipc)" points="113.52,1078.4 114.8,1073.6 116.08,1067.2 117.36,1070.4 118.8,1075.2 120.88,1076 123.12,1075.2 125.2,1074.88 127.6,1075.52 130,1076.48 132.4,1075.2 134.8,1076 137.2,1075.52 139.6,1076 141.68,1075.2 142.96,1068.8 144.24,1063.2 145.52,1062.4 146.8,1067.2 148.08,1072.8 150,1074.88 152.4,1075.52 154.8,1076.8 156.72,1077.6 158.8,1075.2 160.88,1072.8 162.8,1073.92 164.4,1070.4 166,1064.8 167.28,1066.4 168.88,1072 171.12,1073.6 173.2,1072 175.28,1070.4 177.2,1072 179.6,1074.4 182,1075.52 184.4,1076 186.48,1074.4 188.08,1070.4 189.36,1066.4 190.64,1070.4 191.92,1075.2 194,1076.8 196.4,1076.48 198.8,1076 200.88,1073.92 202.16,1067.2 203.28,1060 204.4,1062.4 205.68,1070.4 207.28,1075.52 209.52,1076 212.08,1075.2 214.32,1075.52 216.4,1074.4 218.48,1072.8 220.4,1072 222.32,1073.92 224.4,1072 226,1070.4 227.6,1073.6 229.68,1072 231.6,1072.8 234,1072 236.4,1071.2 238.8,1070.4 240.88,1072 242.48,1068.8 244.08,1064 245.68,1062.4 246.96,1058.4 248.24,1061.6 249.84,1066.4 251.44,1064 252.72,1059.2 254,1057.92 255.28,1062.4 256.88,1067.2 258.8,1069.6 261.2,1068.48 263.6,1069.12 266,1070.4 268.4,1069.6 270.8,1067.2 272.88,1064.8 274.48,1059.2 275.76,1052 276.88,1049.6 278,1056 279.28,1064 280.88,1065.6 282.8,1064 284.72,1064.8 286.8,1062.4 288.88,1061.12 290.48,1064 292.4,1068.8 294.8,1066.4 297.2,1069.6 299.6,1071.2 302,1072 304.4,1069.6 306.8,1066.4 308.4,1064.8 308.96,1065.2 310.56,1066.8 312.48,1069.2 314.72,1071.6 316.8,1072.4 319.2,1070.8 321.6,1070 324,1069.2 325.92,1070.32 328,1071.6 330.4,1072.88 332.8,1074 335.2,1074.8 337.6,1074.48 340,1074.8 342.4,1074.48 344.48,1073.2 346.08,1068.4 347.68,1060.4 348.96,1056.4 350.24,1062 351.52,1070.8 353.6,1074 356,1074.8 359.2,1075.6 362.4,1075.12 365.6,1074.48 368.8,1073.52 372,1072.88 374.4,1071.6 376,1068.4 377.6,1070 379.2,1074 381.6,1075.6 384,1074.8 386.08,1071.6 387.36,1068.4 388.64,1071.6 390.4,1075.6 392.8,1074.8 395.2,1073.2 397.6,1074.48 399.52,1071.92 401.12,1074.8 402.4,1070 403.68,1059.6 404.8,1056.4 405.92,1060.4 407.2,1068.4 408.8,1074 410.72,1071.6 412.32,1074 414.4,1075.6 416.8,1076.08 419.2,1075.6 421.6,1074.8 423.52,1071.6 424.48,1054 425.44,1030 426.4,1024.4 427.36,1030 428.32,1054 429.28,1070 430.88,1074 432.8,1073.2 434.72,1073.52 436.32,1068.4 437.6,1064.4 438.88,1069.2 440.48,1074 442.4,1073.2 444.32,1071.6 445.92,1069.2 447.52,1072.4 449.6,1074 451.68,1070.8 453.28,1069.2 455.2,1072.4 457.6,1074 460,1073.52 462.4,1072.88 464.8,1071.92 467.2,1070.8 469.28,1069.2 471.2,1068.4 473.12,1070.8 475.2,1071.6 477.28,1070 478.88,1066.8 480.48,1070.8 482.4,1072.4 484,1068.4 485.28,1065.2 486.88,1069.2 488.8,1072.4 490.4,1068.4 491.68,1066 493.28,1071.6 495.52,1072.88 498.08,1074 498.8,1073.2 501.2,1074.8 503.6,1075.6 506,1074.8 508.4,1074 510.8,1073.2 513.2,1072.88 515.6,1075.12 518,1076.4 520.4,1075.6 522.8,1076.08 525.2,1075.6 528.4,1074.8 531.6,1075.12 534.8,1074.48 536.72,1072.88 538.32,1074.8 540.4,1076.4 542.48,1073.2 543.76,1062 544.88,1054 546,1050 547.12,1051.6 548.08,1062 549.2,1071.6 550.48,1074 551.76,1070 553.04,1070.8 554.32,1068.4 555.6,1072.4 557.2,1074.8 559.6,1075.12 562,1074.48 565.2,1075.12 568.4,1074 571.6,1074.8 574.8,1075.12 578,1074.48 581.2,1074 583.12,1071.92 585.2,1074.48 588.4,1075.6 591.6,1075.12 593.68,1071.6 594.8,1054 595.76,1030 596.72,1021.2 597.68,1030 598.64,1054 599.76,1071.6 601.2,1075.6 603.28,1075.12 605.2,1073.2 606.8,1071.6 608.4,1074 610.32,1075.6 612.4,1074.8 614,1071.28 615.6,1066.8 616.72,966 617.84,847.44 619.12,950 621.36,1066.8 623.76,1068.4 625.04,1062 626.16,1056.4 627.28,1062 628.4,1070 630,1071.92 632.4,1072.4 635.6,1072.88 638.8,1073.2 642,1072.4 645.2,1072.88 648.4,1071.92 650.8,1071.28 652.88,1069.2 654.8,1071.92 657.2,1073.2 660.4,1073.52 663.6,1074 666.8,1072.88 670,1071.92 673.2,1072.4 676.4,1071.28 679.6,1071.6 682.8,1070.8 686,1071.28 689.2,1071.6 689.6,1070.4 690.88,1068.8 692.48,1071.2 694.4,1072.32 696.8,1073.28 699.2,1073.92 701.6,1074.88 704,1074.4 706.4,1073.92 708.8,1073.6 711.2,1072 712.8,1072.8 714.4,1072 715.52,1065.6 716.48,1062.4 717.6,1067.2 718.72,1073.6 720.8,1073.92 723.2,1072 725.6,1070.72 728,1072.8 730.4,1074.4 732.8,1073.92 735.2,1072.8 737.6,1071.2 740,1071.68 742.4,1071.2 744.8,1072 747.2,1073.28 749.6,1072 751.2,1067.2 752.32,1061.6 753.6,1059.2 754.88,1062.4 756.48,1068.8 758.4,1072 760.8,1072.32 762.88,1070.4 764.48,1068.8 766.08,1065.6 767.2,1056 768.32,1046.4 769.28,1042.4 770.4,1046.4 771.52,1056 773.12,1065.6 774.72,1071.2 776.8,1072.32 779.2,1071.68 781.6,1070.4 783.68,1067.2 785.28,1065.6 786.88,1068.8 788.8,1071.2 791.2,1072 793.6,1071.2 796,1069.6 797.6,1068.8 799.2,1070.72 801.28,1068.8 803.2,1066.4 805.12,1068.8 807.2,1070.08 809.6,1069.12 812,1068.48 814.4,1069.12 816.8,1070.08 819.2,1070.72 821.6,1071.68 824,1072.32 826.4,1072 828.48,1068.8 829.76,1064.8 830.88,1064 832.32,1067.52 833.92,1070.4 835.52,1067.52 837.12,1066.4 838.72,1068.8 840.8,1071.68 843.2,1072.32 845.6,1071.2 848,1070.4 850.4,1071.68 852.8,1070.72 854.72,1068 856,1067.2 857.6,1069.6 860,1072 862.4,1070.72 864.8,1069.6 867.2,1070.72 869.6,1072 872,1072.8 874.4,1072.32 876.8,1072 879.68,1071.2 881.2,1068.8 882.48,1066.88 884.08,1070.4 886,1072.8 888.4,1073.28 890.8,1072.8 893.2,1073.92 895.6,1072 898,1070.72 900.4,1070.4 902.8,1071.2 905.2,1071.68 908.4,1072 911.6,1072.32 914.8,1072.8 918,1072 921.2,1071.68 924.4,1070.4 926.32,1069.6 928.4,1072.8 930.8,1072 934,1071.2 937.2,1070.4 940.4,1071.2 943.6,1070.72 946.8,1070.08 950,1070.72 953.2,1070.4 955.6,1068.8 957.2,1064 958.48,1061.12 959.92,1064 961.2,1072 962.8,1074.4 964.4,1070.4 965.68,1057.6 966.8,1047.2 967.92,1044.8 969.04,1049.6 970.16,1064 971.44,1073.92 973.68,1074.4 975.92,1072.8 978.8,1071.2 982,1070.4 985.2,1071.2 988.4,1072.8 990.8,1073.6 993.2,1071.2 995.6,1069.6 998,1070.4 999.92,1068.8 1001.2,1060.8 1002.48,1056.8 1003.76,1060 1005.2,1070.4 1007.28,1070.4 1009.2,1068.8 1010.8,1069.6 1012.08,1062.4 1012.88,1061.12 1014,1068.8 1015.92,1071.2 1018.8,1072 1022,1071.68 1025.2,1071.2 1028.4,1072 1030.8,1071.68 1033.2,1070.4 1035.12,1067.2 1036.72,1063.2 1038,1060 1039.12,1058.88 1040.24,1062.4 1041.52,1070.4 1043.6,1072 1046,1072.32 1048.4,1072 1050.48,1068.8 1051.76,1062.4 1052.72,1061.6 1054,1067.2 1055.6,1072.8 1058,1073.28 1060.4,1072 1063.6,1071.2 1066.8,1070.72 1069.2,1070.4 1070.8,1070.4 1072.72,1068.8 1074.8,1069.6 1076.88,1068 1078.8,1068.8 1081.2,1070.08 1083.6,1071.2 1086,1071.68 1088.4,1072 1090.32,1070.4 1091.92,1064 1093.2,1058.4 1094.48,1056.8 1095.76,1060 1097.2,1067.2 1098.8,1070.4 1101.2,1071.68 1103.6,1071.2 1106,1070.4 1108.4,1068.8 1110.8,1067.2 1112.72,1064.8 1114.32,1064 1115.92,1066.4 1118,1068.8 1120.4,1069.6 1122,1066.88 1123.6,1064.8 1125.2,1065.6 1126.8,1068.48 1129.2,1070.4 1131.6,1070.72 1134,1070.08 1136.4,1069.6 1138.8,1068.8 1140.88,1067.52 1142.8,1068.8 1145.2,1071.2 1147.6,1070.72 1149.52,1068.8 1151.12,1064 1152.4,1058.4 1153.68,1056.32 1154.96,1059.2 1156.24,1066.4 1158,1070.4 1160.4,1071.2 1162.8,1070.4 1165.2,1070.08 1167.6,1070.72 1170,1072 1172.4,1071.68 1174.8,1070.4 1176.4,1067.2 1177.68,1064.8 1178.96,1065.28 1180.4,1068.8 1182,1071.2 1184.4,1071.68 1186.8,1070.4 1189.2,1068.8 1191.12,1064 1192.4,1058.4 1193.68,1056 1194.96,1058.4 1196.24,1067.2 1197.84,1070.4 1199.44,1067.2 1200.72,1056 1201.84,1050.88 1202.96,1050.4 1204.24,1054.4 1205.52,1064 1207.12,1069.12 1209.2,1069.6 1211.6,1068.8 1214,1068 1216.4,1066.4 1218.8,1065.6 1221.2,1066.88 1223.6,1066.4" fill="none" stroke="#f4202e" stroke-width="1.9" stroke-linejoin="round"/>
<path d="M139.02 1087.2v-9.8M139.02 786.4v9.8M164.24 1087.2v-9.8M164.24 786.4v9.8M189.46 1087.2v-9.8M189.46 786.4v9.8M214.68 1087.2v-17M214.68 786.4v17M239.9 1087.2v-9.8M239.9 786.4v9.8M265.12 1087.2v-9.8M265.12 786.4v9.8M290.34 1087.2v-9.8M290.34 786.4v9.8M315.56 1087.2v-17M315.56 786.4v17M340.78 1087.2v-9.8M340.78 786.4v9.8M366 1087.2v-9.8M366 786.4v9.8M391.23 1087.2v-9.8M391.23 786.4v9.8M416.45 1087.2v-17M416.45 786.4v17M441.67 1087.2v-9.8M441.67 786.4v9.8M466.89 1087.2v-9.8M466.89 786.4v9.8M492.11 1087.2v-9.8M492.11 786.4v9.8M517.33 1087.2v-17M517.33 786.4v17M542.55 1087.2v-9.8M542.55 786.4v9.8M567.77 1087.2v-9.8M567.77 786.4v9.8M592.99 1087.2v-9.8M592.99 786.4v9.8M618.21 1087.2v-17M618.21 786.4v17M643.43 1087.2v-9.8M643.43 786.4v9.8M668.65 1087.2v-9.8M668.65 786.4v9.8M693.87 1087.2v-9.8M693.87 786.4v9.8M719.09 1087.2v-17M719.09 786.4v17M744.31 1087.2v-9.8M744.31 786.4v9.8M769.53 1087.2v-9.8M769.53 786.4v9.8M794.75 1087.2v-9.8M794.75 786.4v9.8M819.97 1087.2v-17M819.97 786.4v17M845.19 1087.2v-9.8M845.19 786.4v9.8M870.41 1087.2v-9.8M870.41 786.4v9.8M895.63 1087.2v-9.8M895.63 786.4v9.8M920.85 1087.2v-17M920.85 786.4v17M946.07 1087.2v-9.8M946.07 786.4v9.8M971.3 1087.2v-9.8M971.3 786.4v9.8M996.52 1087.2v-9.8M996.52 786.4v9.8M1021.74 1087.2v-17M1021.74 786.4v17M1046.96 1087.2v-9.8M1046.96 786.4v9.8M1072.18 1087.2v-9.8M1072.18 786.4v9.8M1097.4 1087.2v-9.8M1097.4 786.4v9.8M1122.62 1087.2v-17M1122.62 786.4v17M1147.84 1087.2v-9.8M1147.84 786.4v9.8M1173.06 1087.2v-9.8M1173.06 786.4v9.8M1198.28 1087.2v-9.8M1198.28 786.4v9.8M113.8 1067.15h9.8M1223.5 1067.15h-9.8M113.8 1047.09h9.8M1223.5 1047.09h-9.8M113.8 1027.04h9.8M1223.5 1027.04h-9.8M113.8 1006.99h9.8M1223.5 1006.99h-9.8M113.8 986.93h17M1223.5 986.93h-17M113.8 966.88h9.8M1223.5 966.88h-9.8M113.8 946.83h9.8M1223.5 946.83h-9.8M113.8 926.77h9.8M1223.5 926.77h-9.8M113.8 906.72h9.8M1223.5 906.72h-9.8M113.8 886.67h17M1223.5 886.67h-17M113.8 866.61h9.8M1223.5 866.61h-9.8M113.8 846.56h9.8M1223.5 846.56h-9.8M113.8 826.51h9.8M1223.5 826.51h-9.8M113.8 806.45h9.8M1223.5 806.45h-9.8" stroke="#262626" stroke-width="2.8" fill="none"/>
<rect x="113.8" y="786.4" width="1109.7" height="300.8" fill="none" stroke="#262626" stroke-width="2.9"/>
<text x="113.3" y="1126.3" text-anchor="middle" class="tl">85</text>
<text x="214.18" y="1126.3" text-anchor="middle" class="tl">95</text>
<text x="315.06" y="1126.3" text-anchor="middle" class="tl">105</text>
<text x="415.95" y="1126.3" text-anchor="middle" class="tl">115</text>
<text x="516.83" y="1126.3" text-anchor="middle" class="tl">125</text>
<text x="617.71" y="1126.3" text-anchor="middle" class="tl">135</text>
<text x="718.59" y="1126.3" text-anchor="middle" class="tl">145</text>
<text x="819.47" y="1126.3" text-anchor="middle" class="tl">155</text>
<text x="920.35" y="1126.3" text-anchor="middle" class="tl">165</text>
<text x="1021.24" y="1126.3" text-anchor="middle" class="tl">175</text>
<text x="1122.12" y="1126.3" text-anchor="middle" class="tl">185</text>
<text x="1223" y="1126.3" text-anchor="middle" class="tl">195</text>
<text x="103.4" y="1098.8" text-anchor="end" class="tl">0</text>
<text x="103.4" y="998.53" text-anchor="end" class="tl">0.5</text>
<text x="103.4" y="898.27" text-anchor="end" class="tl">1.0</text>
<text x="103.4" y="798" text-anchor="end" class="tl">1.5</text>
<text transform="translate(38.3 1070.6) rotate(-90)" class="yl" letter-spacing="0.2">I (10<tspan dy="-17.5" font-size="26">17</tspan><tspan dy="17.5">phs/m</tspan><tspan dy="-17.5" font-size="26">2</tspan><tspan dy="17.5">/s/Sr)</tspan></text>
<text x="128.8" y="829.2" class="pl">(c)</text>
</g>
<g id="legend"><rect x="1046" y="48.5" width="163" height="75.5" fill="#fff" stroke="#262626" stroke-width="2.8"/>
<path d="M1050 68.4h33" stroke="#1a10ee" stroke-width="1.4"/><path d="M1050 103.7h33" stroke="#f4202e" stroke-width="1.4"/>
<text x="1087" y="78.5" class="lg">w/o LHW</text><text x="1087" y="113.5" class="lg">with LHW</text></g>
<g id="annotations">
<text class="an" transform="translate(188.95 241.30) rotate(-90)" font-size="22.00" letter-spacing="-0.11" xml:space="preserve">NeX 12.13</text>
<text class="an" transform="translate(230.95 266.00) rotate(-90)" font-size="22.00" letter-spacing="-0.23" xml:space="preserve">NeIX 13.55</text>
<text class="an" transform="translate(312.80 272.20) rotate(-90)" font-size="22.00" letter-spacing="-0.51" xml:space="preserve">OVIII 16.01</text>
<text class="an" transform="translate(422.70 233.10) rotate(-90)" font-size="22.00" letter-spacing="-0.24" xml:space="preserve">OVIII 18.97</text>
<text class="an" transform="translate(476.10 223.50) rotate(-90)" font-size="22.00" letter-spacing="-0.29" xml:space="preserve">OVII 21.602</text>
<text class="an" transform="translate(510.60 219.40) rotate(-90)" font-size="22.00" letter-spacing="-0.39" xml:space="preserve">OVII 21.804</text>
<text class="an" transform="translate(588.90 221.60) rotate(-90)" font-size="22.00" letter-spacing="-0.14" xml:space="preserve">N VII 24.78</text>
<text class="an" transform="translate(704.30 255.40) rotate(-90)" font-size="22.00" letter-spacing="-0.40" xml:space="preserve">CVI 28.456</text>
<text class="an" transform="translate(890.90 236.20) rotate(-90)" font-size="22.00" letter-spacing="-0.40" xml:space="preserve">CVI 33.734</text>
<text class="an" transform="translate(1004.70 287.70) rotate(-90)" font-size="22.00" letter-spacing="-0.24" xml:space="preserve">2<tspan dy="-10.8" font-size="17.6">nd</tspan><tspan dy="10.8">OVIII 18.97</tspan></text>
<text class="an" transform="translate(1081.30 284.20) rotate(-90)" font-size="22.00" letter-spacing="-0.60" xml:space="preserve">CV 40.27</text>
<text class="anr" transform="translate(211.50 571.80) rotate(-90)" font-size="22.00" letter-spacing="-0.60" xml:space="preserve">W<tspan dy="-10.8" font-size="17.6">26+</tspan><tspan dy="10.8">49.0</tspan></text>
<text class="anr" transform="translate(234.00 571.80) rotate(-90)" font-size="22.00" letter-spacing="-0.06" xml:space="preserve">W<tspan dy="-10.8" font-size="17.6">27+</tspan><tspan dy="10.8">49.403</tspan></text>
<text class="anr" transform="translate(257.00 589.70) rotate(-90)" font-size="22.00" letter-spacing="0.32" xml:space="preserve">W<tspan dy="-10.8" font-size="17.6">29+</tspan><tspan dy="10.8">49.938</tspan></text>
<text class="anr" transform="translate(282.10 563.30) rotate(-90)" font-size="22.00" letter-spacing="-0.40" xml:space="preserve">W<tspan dy="-10.8" font-size="17.6">27+</tspan><tspan dy="10.8">50.895</tspan></text>
<text class="anr" transform="translate(304.20 572.70) rotate(-90)" font-size="22.00" letter-spacing="-0.53" xml:space="preserve">W<tspan dy="-10.8" font-size="17.6">27+</tspan><tspan dy="10.8">51.4</tspan></text>
<text class="anr" transform="translate(328.00 591.40) rotate(-90)" font-size="22.00" letter-spacing="-0.36" xml:space="preserve">W<tspan dy="-10.8" font-size="17.6">32+</tspan><tspan dy="10.8">52.22</tspan></text>
<text class="an" transform="translate(453.10 650.60) rotate(-90)" font-size="22.00" letter-spacing="-0.24" xml:space="preserve">2<tspan dy="-10.8" font-size="17.6">nd</tspan><tspan dy="10.8">CVI 28.5</tspan></text>
<text class="an" transform="translate(764.00 635.20) rotate(-90)" font-size="22.00" letter-spacing="-0.24" xml:space="preserve">2<tspan dy="-10.8" font-size="17.6">nd</tspan><tspan dy="10.8">CVI 33.73</tspan></text>
<text class="an" transform="translate(934.10 654.70) rotate(-90)" font-size="22.00" letter-spacing="-0.15" xml:space="preserve">MoXXV 74.17</text>
<text class="an" transform="translate(1001.50 666.70) rotate(-90)" font-size="22.00" letter-spacing="-0.27" xml:space="preserve">MoXXVI 76.624</text>
<text class="an" transform="translate(1106.90 657.80) rotate(-90)" font-size="22.00" letter-spacing="-0.10" xml:space="preserve">2<tspan dy="-10.8" font-size="17.6">nd</tspan><tspan dy="10.8">CV 40.27</tspan></text>
<text class="an" transform="translate(154.50 1041.00) rotate(-90)" font-size="22.00" letter-spacing="-0.38" xml:space="preserve">Cu XXII 90.276</text>
<text class="an" transform="translate(195.90 1032.40) rotate(-90)" font-size="22.00" letter-spacing="-0.31" xml:space="preserve">MoXXX 92.549</text>
<text class="an" transform="translate(215.70 1046.30) rotate(-90)" font-size="22.00" letter-spacing="-0.35" xml:space="preserve">FeXVIII 93.926</text>
<text class="an" transform="translate(284.20 1012.50) rotate(-90)" font-size="22.00" letter-spacing="-0.32" xml:space="preserve">FeXXII 102.22</text>
<text class="an" transform="translate(318.10 1034.80) rotate(-90)" font-size="22.00" letter-spacing="-0.37" xml:space="preserve">MoXXX 104.37</text>
<text class="an" transform="translate(357.70 1040.30) rotate(-90)" font-size="22.00" letter-spacing="-0.40" xml:space="preserve">FeXIX 108.315</text>
<text class="an" transform="translate(397.00 1037.90) rotate(-90)" font-size="22.00" letter-spacing="-0.33" xml:space="preserve">CuXXIV 111.186</text>
<text class="an" transform="translate(414.60 1039.60) rotate(-90)" font-size="22.00" letter-spacing="-0.28" xml:space="preserve">LiIII 113.9</text>
<text class="an" transform="translate(446.50 998.00) rotate(-90)" font-size="22.00" letter-spacing="-0.13" xml:space="preserve">MoXXXI 116</text>
<text class="an" transform="translate(565.70 1023.20) rotate(-90)" font-size="22.00" letter-spacing="-0.22" xml:space="preserve">MoXXXII 127.89</text>
<text class="an" transform="translate(605.30 990.10) rotate(-90)" font-size="22.00" letter-spacing="-0.29" xml:space="preserve">Fe XXIII 132.906</text>
<text class="an" transform="translate(638.40 939.20) rotate(-90)" font-size="22.00" letter-spacing="-0.25" xml:space="preserve">LiIII 134.99</text>
<text class="an" transform="translate(662.90 1020.30) rotate(-90)" font-size="22.00" letter-spacing="-0.35" xml:space="preserve">FeXXII 135.812</text>
<text class="an" transform="translate(758.90 1042.20) rotate(-90)" font-size="22.00" letter-spacing="-0.29" xml:space="preserve">2<tspan dy="-10.8" font-size="17.6">nd</tspan><tspan dy="10.8"> MoXXV 74.17</tspan></text>
<text class="an" transform="translate(777.70 1023.00) rotate(-90)" font-size="22.00" letter-spacing="-0.56" xml:space="preserve">OVI 150.089</text>
<text class="an" transform="translate(960.90 1045.60) rotate(-90)" font-size="22.00" letter-spacing="-0.40" xml:space="preserve">NV 168.514</text>
<text class="an" transform="translate(1045.10 1018.60) rotate(-90)" font-size="22.00" letter-spacing="-0.30" xml:space="preserve">MoXXXII 176.648</text>
<text class="an" transform="translate(1102.90 1040.60) rotate(-90)" font-size="22.00" letter-spacing="-0.58" xml:space="preserve">OV 182.203</text>
<text class="an" transform="translate(1145.40 1002.10) rotate(-90)" font-size="22.00" letter-spacing="-0.25" xml:space="preserve">FeXII 188.09</text>
<text class="an" transform="translate(1166.50 1000.50) rotate(-90)" font-size="22.00" letter-spacing="-0.22" xml:space="preserve">MoXXXI 190.466</text>
<text class="an" transform="translate(1206.90 999.90) rotate(-90)" font-size="22.00" letter-spacing="-0.60" xml:space="preserve">OV 192.8</text>
<path d="M468.3 226.8L482.0 259.2" stroke="#111" stroke-width="1.4" fill="none" marker-end="url(#ah)"/>
<path d="M502.9 224.4L490.9 266.4" stroke="#111" stroke-width="1.4" fill="none" marker-end="url(#ah)"/>
<path d="M210.0 576.0L222.7 615.2" stroke="#111" stroke-width="1.4" fill="none" marker-end="url(#ah)"/>
<path d="M221.0 574.4L235.5 589.7" stroke="#111" stroke-width="1.4" fill="none" marker-end="url(#ah)"/>
<path d="M652.0 1026.0L629.2 1044.0" stroke="#111" stroke-width="1.4" fill="none" marker-end="url(#ah)"/>
<path d="M1139.8 1004.7L1153.9 1028.6" stroke="#111" stroke-width="1.4" fill="none" marker-end="url(#ah)"/>
<path d="M1161.0 1004.7L1177.2 1037.0" stroke="#111" stroke-width="1.4" fill="none" marker-end="url(#ah)"/>
<path d="M1201.7 1006.8L1204.2 1040.5" stroke="#111" stroke-width="1.4" fill="none" marker-end="url(#ah)"/>
</g>
<text class="xl" transform="translate(630 1165) scale(1.27 0.9)" font-style="italic" font-size="37">λ</text>
<text y="1165" class="xl"><tspan x="660.5" font-size="35">(</tspan><tspan x="672" font-size="33">Å</tspan><tspan x="696.5" font-size="35">)</tspan></text>
</svg></body></html>
